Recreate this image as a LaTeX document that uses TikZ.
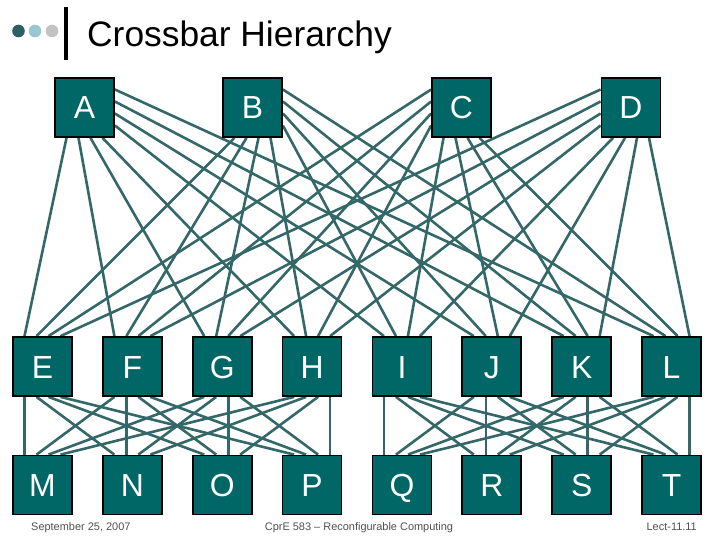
\documentclass[tikz,border=0pt]{standalone}
\usepackage{fontspec}
\setmainfont{Liberation Sans}
\usetikzlibrary{backgrounds}
\definecolor{boxfill}{RGB}{0,102,102}
\definecolor{wire}{RGB}{52,104,104}
\definecolor{dotA}{RGB}{45,95,100}
\definecolor{dotB}{RGB}{150,200,205}
\definecolor{dotC}{RGB}{195,195,195}
\definecolor{footgray}{RGB}{80,80,80}
\begin{document}
\begin{tikzpicture}[x=1bp,y=-1bp,
  box/.style={draw=black,line width=1.8bp,fill=boxfill,minimum width=59bp,minimum height=59bp,
    inner sep=0pt,text=white,font=\fontsize{32}{32}\selectfont,text height=23bp,text depth=0pt},
  wireline/.style={draw=wire,line width=2.6bp},
  foot/.style={font=\fontsize{11}{11}\selectfont,text=footgray,inner sep=0pt}]
\useasboundingbox (0,0) rectangle (720,540);
% title
\fill[dotA] (18.5,31) circle[radius=6.3bp];
\fill[dotB] (35,31) circle[radius=6.3bp];
\fill[dotC] (52,31) circle[radius=6.3bp];
\draw[black,line width=4bp] (66,7) -- (66,60);
\node[anchor=base west,inner sep=0pt,font=\fontsize{35.5}{35.5}\selectfont] (title) at (87,47) {Crossbar Hierarchy};
% top row
\node[box] (A) at (84.5,107.5) {A};
\node[box] (B) at (252.5,107.5) {B};
\node[box] (C) at (461.5,107.5) {C};
\node[box] (D) at (631,107.5) {D};
% middle row
\foreach \n [count=\i from 0] in {E,F,G,H,I,J,K,L}
  \node[box] (\n) at ({42.5+89.86*\i},366.5) {\n};
% bottom row
\foreach \n [count=\i from 0] in {M,N,O,P,Q,R,S,T}
  \node[box] (\n) at ({42.5+89.86*\i},485) {\n};
% footer
\node[foot,anchor=base west] (f1) at (31,530) {September 25, 2007};
\node[foot,anchor=base] (f2) at (359,530) {CprE 583 – Reconfigurable Computing};
\node[foot,anchor=base east] (f3) at (697,530) {Lect-11.11};
% wires
\begin{scope}[on background layer]
\foreach \t/\tn in {0/A,1/B} {
  \foreach \m/\mn in {0/E,1/F,2/G,3/H}
    \draw[wireline] ([xshift={(12*\m-18)*1bp}]\tn.south) -- ([xshift={(12*\t-18)*1bp}]\mn.north);
  \foreach \m/\mn in {4/I,5/J,6/K,7/L}
    \draw[wireline] ([yshift={(12*(\m-4)-18)*1bp}]\tn.east) -- ([xshift={(12*\t-18)*1bp}]\mn.north);
}
\foreach \t/\tn in {2/C,3/D} {
  \foreach \m/\mn in {0/E,1/F,2/G,3/H}
    \draw[wireline] ([yshift={(18-12*\m)*1bp}]\tn.west) -- ([xshift={(12*\t-18)*1bp}]\mn.north);
  \foreach \m/\mn in {4/I,5/J,6/K,7/L}
    \draw[wireline] ([xshift={(12*(\m-4)-18)*1bp}]\tn.south) -- ([xshift={(12*\t-18)*1bp}]\mn.north);
}
\foreach \a/\mn in {0/E,1/F,2/G,3/H}
  \foreach \b/\bn in {0/M,1/N,2/O,3/P}
    \draw[wireline] ([xshift={(12*\b-18)*1bp}]\mn.south) -- ([xshift={(12*\a-18)*1bp}]\bn.north);
\foreach \a/\mn in {0/I,1/J,2/K,3/L}
  \foreach \b/\bn in {0/Q,1/R,2/S,3/T}
    \draw[wireline] ([xshift={(12*\b-18)*1bp}]\mn.south) -- ([xshift={(12*\a-18)*1bp}]\bn.north);
\end{scope}
\end{tikzpicture}
\end{document}
